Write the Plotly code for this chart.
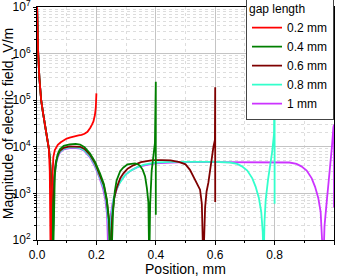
import plotly.graph_objects as go

# ---- data (position in mm, |E| in V/m) ----
head_x = [0.0, 0.002, 0.004, 0.008, 0.014, 0.02, 0.025, 0.03, 0.036, 0.04]
head_y = [1.2e7, 3.0e6, 1.0e6, 3.0e5, 1.0e5, 5.5e4, 3.6e4, 2.4e4, 1.4e4, 9.0e3]

red_x = head_x + [0.043, 0.045, 0.046, 0.048, 0.051, 0.055, 0.06, 0.07, 0.08, 0.09, 0.1,
                  0.11, 0.12, 0.13, 0.14, 0.15, 0.16, 0.17, 0.175, 0.18, 0.185, 0.19,
                  0.195, 0.198, 0.2]
red_y = head_y + [3.0e3, 800, 30, 600, 2.5e3, 6.0e3, 8.5e3, 1.1e4, 1.25e4, 1.4e4, 1.5e4,
                  1.58e4, 1.65e4, 1.7e4, 1.75e4, 1.8e4, 1.9e4, 2.1e4, 2.3e4, 2.6e4, 3.0e4,
                  3.5e4, 4.8e4, 7.0e4, 1.4e5]

green_x = head_x + [0.044, 0.048, 0.051, 0.054, 0.057, 0.06, 0.065, 0.07, 0.077, 0.09, 0.11,
                    0.13, 0.145, 0.16, 0.178, 0.195, 0.212, 0.225, 0.235, 0.243, 0.25,
                    0.256, 0.262, 0.268, 0.28, 0.291, 0.305, 0.319, 0.33, 0.34, 0.347,
                    0.356, 0.364, 0.37, 0.375, 0.378, 0.381, 0.386, 0.392, 0.397, 0.4, 0.4]
green_y = head_y + [5.0e3, 2.2e3, 800, 30, 700, 2.5e3, 5.0e3, 7.0e3, 8.8e3, 1.05e4, 1.13e4,
                    1.15e4, 1.12e4, 9.8e3, 7.3e3, 4.8e3, 2.7e3, 1.6e3, 750, 250, 30,
                    400, 1.1e3, 1.9e3, 3.0e3, 3.6e3, 4.2e3, 4.4e3, 4.4e3, 4.2e3, 3.9e3,
                    3.2e3, 2.3e3, 1.3e3, 650, 30, 600, 3.0e3, 7.0e3, 1.2e4, 2.5e5, 350]

dred_x = head_x + [0.044, 0.048, 0.05, 0.052, 0.055, 0.058, 0.063, 0.07, 0.077, 0.09, 0.11,
                   0.13, 0.145, 0.16, 0.178, 0.195, 0.212, 0.225, 0.235, 0.242, 0.247,
                   0.253, 0.26, 0.268, 0.28, 0.291, 0.305, 0.324, 0.35, 0.37, 0.39, 0.42,
                   0.45, 0.48, 0.5, 0.515, 0.53, 0.542, 0.549, 0.555, 0.56, 0.566, 0.571,
                   0.577, 0.583, 0.588, 0.594, 0.599, 0.6, 0.6]
dred_y = head_y + [5.0e3, 2.0e3, 800, 30, 600, 2.2e3, 4.5e3, 6.6e3, 8.2e3, 9.5e3, 1.02e4,
                   1.03e4, 1.0e4, 9.0e3, 6.8e3, 4.5e3, 2.5e3, 1.5e3, 700, 280, 30,
                   300, 800, 1.3e3, 2.1e3, 2.7e3, 3.4e3, 4.0e3, 4.7e3, 5.0e3, 5.2e3, 5.2e3,
                   5.1e3, 4.7e3, 4.2e3, 3.2e3, 2.1e3, 1.5e3, 1.2e3, 600, 30, 500, 1.1e3,
                   1.7e3, 3.5e3, 6.0e3, 1.0e4, 1.4e4, 1.9e5, 650]

cyan_x = head_x + [0.044, 0.048, 0.05, 0.052, 0.055, 0.058, 0.063, 0.07, 0.077, 0.09, 0.11,
                   0.125, 0.145, 0.16, 0.178, 0.195, 0.212, 0.225, 0.233, 0.24, 0.245,
                   0.25, 0.258, 0.268, 0.279, 0.295, 0.313, 0.335, 0.358, 0.4, 0.45, 0.5,
                   0.55, 0.6, 0.65, 0.674, 0.69, 0.708, 0.725, 0.736, 0.747, 0.755, 0.76,
                   0.763, 0.766, 0.77, 0.778, 0.785, 0.792, 0.798, 0.8, 0.8]
cyan_y = head_y + [5.0e3, 2.0e3, 800, 30, 550, 2.0e3, 4.2e3, 6.3e3, 7.8e3, 9.1e3, 9.7e3,
                   9.8e3, 9.4e3, 8.4e3, 6.3e3, 4.1e3, 2.2e3, 1.3e3, 700, 250, 30,
                   300, 800, 1.25e3, 1.7e3, 2.4e3, 3.0e3, 3.6e3, 4.1e3, 4.6e3, 4.75e3, 4.8e3,
                   4.8e3, 4.75e3, 4.6e3, 4.3e3, 3.8e3, 3.1e3, 2.1e3, 1.4e3, 800, 400, 150,
                   30, 250, 720, 2.0e3, 3.7e3, 8.0e3, 1.9e4, 5.0e5, 600]

mag_x = head_x + [0.044, 0.048, 0.05, 0.052, 0.055, 0.058, 0.063, 0.07, 0.077, 0.09, 0.11,
                  0.125, 0.145, 0.16, 0.178, 0.195, 0.21, 0.222, 0.23, 0.236, 0.241,
                  0.247, 0.255, 0.268, 0.28, 0.3, 0.32, 0.34, 0.37, 0.4, 0.45, 0.5, 0.6,
                  0.7, 0.8, 0.85, 0.874, 0.89, 0.908, 0.925, 0.936, 0.947, 0.955, 0.96,
                  0.964, 0.968, 0.972, 0.976, 0.982, 0.987, 0.993, 0.998, 1.0, 1.0]
mag_y = head_y + [5.0e3, 2.0e3, 800, 30, 500, 1.9e3, 4.0e3, 6.0e3, 7.5e3, 8.8e3, 9.4e3,
                  9.5e3, 9.1e3, 8.1e3, 6.0e3, 3.8e3, 2.2e3, 1.3e3, 750, 350, 30,
                  300, 650, 1.2e3, 1.8e3, 2.6e3, 3.2e3, 3.7e3, 4.1e3, 4.4e3, 4.6e3, 4.7e3,
                  4.7e3, 4.7e3, 4.7e3, 4.6e3, 4.3e3, 3.8e3, 3.1e3, 2.1e3, 1.4e3, 800, 400,
                  150, 30, 200, 500, 720, 1.8e3, 3.7e3, 1.0e4, 2.6e4, 3.0e4, 500]

names = ["0.2 mm", "0.4 mm", "0.6 mm", "0.8 mm", "1 mm"]
colors = ["#FF0000", "#007F00", "#7F0000", "#33FFCC", "#CC33FF"]
xs = [red_x, green_x, dred_x, cyan_x, mag_x]
ys = [red_y, green_y, dred_y, cyan_y, mag_y]

x_tickvals = [0.0, 0.2, 0.4, 0.6, 0.8, 1.0]
x_ticktext = ["0.0", "0.2", "0.4", "0.6", "0.8", "1.0"]
x_minor = [0.1, 0.3, 0.5, 0.7, 0.9]
y_tickvals = [1e2, 1e3, 1e4, 1e5, 1e6, 1e7]
y_ticktext = ["10<sup>2</sup>", "10<sup>3</sup>", "10<sup>4</sup>",
              "10<sup>5</sup>", "10<sup>6</sup>", "10<sup>7</sup>"]
y_minor = [k * 10 ** n for n in range(2, 7) for k in range(2, 10)]

fig = go.Figure()
# draw last series first so the 0.2 mm curve ends up on top
for i in reversed(range(5)):
    fig.add_trace(go.Scatter(x=xs[i], y=ys[i], mode="lines", name=names[i],
                             line=dict(color=colors[i], width=1.8)))

font_family = "Liberation Sans"
fig.update_layout(
    width=342, height=277,
    margin=dict(l=37, r=8, t=7, b=37, autoexpand=False),
    paper_bgcolor="white", plot_bgcolor="white",
    font=dict(family=font_family, size=12, color="black"),
    showlegend=True,
    legend=dict(title=dict(text="gap length", font=dict(size=12)),
                x=1.0, xanchor="right", y=1.045, yanchor="top",
                bgcolor="white", bordercolor="#444444", borderwidth=1,
                traceorder="reversed", itemwidth=30,
                font=dict(size=12), tracegroupgap=0),
    xaxis=dict(range=[0, 1], tickmode="array", tickvals=x_tickvals, ticktext=x_ticktext,
               showline=True, linecolor="black", linewidth=1, mirror=True,
               ticks="outside", ticklen=4, tickcolor="black", automargin=False,
               showgrid=True, gridcolor="#C4C4C4", gridwidth=1, zeroline=False,
               minor=dict(tickmode="array", tickvals=x_minor, ticks="outside", ticklen=2,
                          tickcolor="black", showgrid=True, gridcolor="#DDDDDD",
                          griddash="dot"),
               title=dict(text="Position, mm")),
    yaxis=dict(type="log", range=[2, 7], tickmode="array",
               tickvals=y_tickvals, ticktext=y_ticktext, automargin=False,
               ticklabeloverflow="allow",
               showline=True, linecolor="black", linewidth=1, mirror=True,
               ticks="outside", ticklen=3, tickcolor="black",
               showgrid=True, gridcolor="#C4C4C4", gridwidth=1, zeroline=False,
               minor=dict(tickmode="array", tickvals=y_minor, ticks="outside",
                          ticklen=2, tickcolor="black", showgrid=True,
                          gridcolor="#DDDDDD", griddash="dot"),
               title=dict(text="Magnitude of electric field, V/m", standoff=0)),
)

fig.write_html("out.html", config={"displayModeBar": False},
               post_script="document.body.style.margin='0px';")
